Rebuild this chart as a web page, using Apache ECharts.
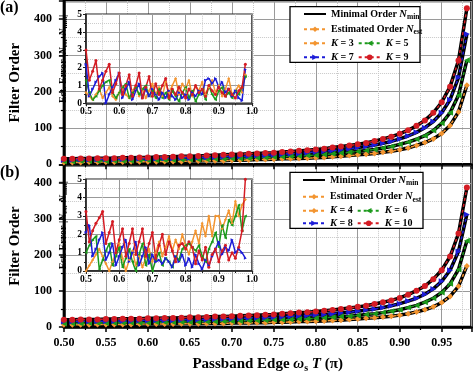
<!DOCTYPE html>
<html><head><meta charset="utf-8">
<script src="https://cdn.jsdelivr.net/npm/echarts@6/dist/echarts.min.js"></script>
<style>html,body{margin:0;padding:0;background:#fff}#wrap{position:relative;width:474px;height:374px}#c,#ov{position:absolute;left:0;top:0;width:474px;height:374px}#ov{pointer-events:none}</style>
</head><body><div id="wrap"><div id="c"></div><div id="ov"></div></div>
<script>
const xs = [0.50,0.51,0.52,0.53,0.54,0.55,0.56,0.57,0.58,0.59,0.60,0.61,0.62,0.63,0.64,0.65,0.66,0.67,0.68,0.69,0.70,0.71,0.72,0.73,0.74,0.75,0.76,0.77,0.78,0.79,0.80,0.81,0.82,0.83,0.84,0.85,0.86,0.87,0.88,0.89,0.90,0.91,0.92,0.93,0.94,0.95,0.96,0.97,0.98];

// Panel (a): minimal order
const nminA_K9 = [15,15,16,16,17,17,17,18,18,19,19,20,20,21,22,22,23,24,25,26,27,28,29,30,31,32,34,35,37,39,41,43,46,49,52,55,59,64,70,76,84,94,106,121,142,171,214,286,430];
const nminA_K7 = [12,12,13,13,13,14,14,14,15,15,16,16,17,17,18,18,19,19,20,21,22,22,23,24,25,26,28,29,30,32,34,36,38,40,43,46,49,53,58,63,70,78,88,101,118,142,178,239,359];
const nminA_K5 = [8,8,9,9,9,9,10,10,10,11,11,11,12,12,13,13,13,14,15,15,16,16,17,18,19,20,21,22,23,24,25,27,29,31,33,35,38,41,45,49,55,61,69,79,93,113,142,190,287];
const nminA_K3 = [5,5,5,6,6,6,6,6,7,7,7,7,8,8,8,9,9,10,10,10,11,11,12,13,13,14,15,15,16,17,18,19,21,22,24,26,28,30,33,36,40,45,52,60,70,85,107,144,218];
// Panel (b): minimal order
const nminB_K10 = [20,20,21,21,21,22,22,23,23,23,24,24,25,25,26,27,27,28,29,29,30,31,32,33,34,35,37,38,40,41,43,45,47,50,53,56,59,64,69,74,81,90,101,114,133,158,196,260,388];
const nminB_K8 = [15,15,16,16,16,16,17,17,17,18,18,19,19,19,20,20,21,21,22,23,23,24,25,26,26,27,28,30,31,32,34,35,37,39,41,44,47,50,54,59,65,72,80,91,106,127,158,210,313];
const nminB_K6 = [10,10,10,11,11,11,11,12,12,12,12,13,13,13,14,14,14,15,15,16,16,17,18,18,19,20,20,21,22,23,24,26,27,29,30,32,35,37,40,44,48,54,60,69,80,96,120,160,240];
const nminB_K4 = [6,6,6,6,7,7,7,7,7,8,8,8,8,8,9,9,9,10,10,10,11,11,11,12,12,13,13,14,15,15,16,17,18,19,21,22,24,26,28,30,33,37,42,48,56,68,85,113,170];

// Estimation errors |Nest - Nmin|
const errA_K9 = [3.0,1.3,1.8,2.4,0.8,1.3,1.8,2.2,0.6,1.1,1.7,0.5,1.0,1.6,0.4,1.0,1.7,0.3,0.9,1.5,0.4,1.1,0.5,1.0,1.4,0.3,0.8,0.5,0.9,0.6,0.3,0.8,0.5,1.0,0.6,0.8,0.4,1.0,0.7,0.5,0.9,0.6,0.4,0.8,0.5,0.3,0.7,0.9,2.2];
const errA_K7 = [2.2,0.4,0.8,1.2,1.5,1.7,0.0,0.5,0.9,1.3,1.7,0.3,0.8,1.2,0.2,0.7,1.1,0.3,0.8,0.4,0.8,0.5,0.2,0.6,0.3,0.7,0.4,0.2,0.6,0.3,0.5,0.2,0.6,0.4,0.7,0.5,1.3,1.4,1.1,1.4,0.9,1.2,0.6,0.8,0.4,0.7,0.3,0.15,1.9];
const errA_K5 = [1.3,0.6,0.2,0.4,0.7,1.0,1.2,1.3,0.6,0.3,0.6,0.9,1.1,0.3,0.6,0.9,0.5,0.8,1.0,0.4,0.7,0.3,0.8,0.3,0.6,0.2,0.7,0.4,0.1,0.6,0.9,0.3,0.7,0.1,0.5,0.8,0.2,1.0,0.5,0.2,0.7,0.9,0.4,0.6,0.3,0.7,0.5,0.9,1.5];
const errA_K3 = [0.6,0.4,0.2,0.5,0.8,0.3,0.6,0.9,0.4,0.2,0.6,0.9,0.5,0.3,0.7,1.0,0.4,0.8,0.3,0.7,1.1,0.5,0.9,0.4,1.2,0.6,1.0,1.4,0.5,1.1,0.8,1.3,0.4,1.0,0.7,1.2,0.5,0.9,1.3,0.6,1.0,0.4,0.8,1.4,0.5,0.7,1.0,0.6,1.6];
const errB_K10 = [3.25,1.6,2.2,2.6,2.9,3.25,1.5,2.1,2.7,1.0,1.7,2.3,0.8,1.5,2.3,0.9,1.6,2.3,0.8,1.5,2.1,0.7,1.4,2.0,0.9,1.6,1.1,0.5,1.4,1.5,1.2,1.6,1.3,0.4,1.1,0.6,1.3,0.2,0.9,1.2,0.5,1.1,1.4,0.6,1.0,0.7,1.3,2.2,5.0];
const errB_K8 = [2.1,2.5,0.8,1.2,1.7,2.1,0.6,1.0,1.5,0.3,0.8,1.3,1.7,0.5,1.0,1.6,0.3,0.8,1.3,0.4,0.9,0.5,0.6,0.4,0.7,0.5,0.2,0.8,0.5,0.9,0.3,0.7,0.2,0.9,0.4,0.1,0.6,0.3,0.8,1.2,1.6,0.9,1.3,1.1,1.7,1.0,1.2,1.0,0.7];
const errB_K6 = [1.0,1.4,1.7,1.9,0.1,0.6,1.1,1.5,0.3,0.8,1.3,0.2,0.7,1.2,0.5,0.0,0.9,1.5,0.3,0.9,0.0,0.6,1.0,0.3,0.7,0.5,0.2,0.8,0.6,1.2,1.4,1.5,1.3,1.1,1.4,0.8,0.5,1.2,1.6,2.1,1.3,2.5,1.8,2.8,2.5,3.0,3.6,2.2,3.0];
const errB_K4 = [0.0,0.3,0.6,0.9,1.2,0.8,0.4,0.0,0.5,1.0,1.5,0.7,0.0,0.6,1.1,0.3,0.8,0.2,0.7,1.2,0.5,1.0,1.6,0.8,1.3,1.9,1.1,1.7,1.2,2.0,1.4,0.9,1.6,2.2,1.5,2.6,1.9,3.0,1.9,3.0,3.0,2.3,2.8,3.3,2.6,3.8,3.0,3.6,3.9];

const FONT = "'Liberation Serif','Times New Roman',serif";
const C = {o:'#f39530', g:'#1c9a1c', b:'#1c1cd8', r:'#d41c24'};

const LT = {
  Nmin:'Minimal Order {i|N}{s|min}', Nest:'Estimated Order {i|N}{s|est}',
  K3:'{i|K} = 3', K5:'{i|K} = 5', K7:'{i|K} = 7', K9:'{i|K} = 9',
  K4:'{i|K} = 4', K6:'{i|K} = 6', K8:'{i|K} = 8', K10:'{i|K} = 10'
};
const errName = '{b|Est. Error |}{i|N}{s|est}{b|-}{i|N}{s|min}{b||}';

function pts(arr){ return xs.map((x,i)=>[x, arr[i]]); }

const panels = [
  {grid:0, inset:2, ks:[['K3',nminA_K3,errA_K3,C.o,'diamond',0],['K5',nminA_K5,errA_K5,C.g,'triangle',90],['K7',nminA_K7,errA_K7,C.b,'triangle',-90],['K9',nminA_K9,errA_K9,C.r,'circle',0]]},
  {grid:1, inset:3, ks:[['K4',nminB_K4,errB_K4,C.o,'diamond',0],['K6',nminB_K6,errB_K6,C.g,'triangle',90],['K8',nminB_K8,errB_K8,C.b,'triangle',-90],['K10',nminB_K10,errB_K10,C.r,'circle',0]]}
];

const series = [];
panels.forEach(p=>{
  p.ks.forEach(k=>series.push({type:'line', name:'Nmin', xAxisIndex:p.grid, yAxisIndex:p.grid, data:pts(k[1]), symbol:'none', lineStyle:{color:'#000', width:3.5}, itemStyle:{color:'#000'}, z:2, silent:true}));
  p.ks.forEach(k=>series.push({type:'line', name:k[0], xAxisIndex:p.grid, yAxisIndex:p.grid, data:pts(k[1]), symbol:k[4], symbolRotate:k[5], symbolSize:6, lineStyle:{color:k[3], width:1.5, type:[3,3]}, itemStyle:{color:k[3]}, z:3, silent:true}));
  p.ks.forEach(k=>series.push({type:'line', name:'e'+k[0], xAxisIndex:p.inset, yAxisIndex:p.inset, data:pts(k[2]), symbol:k[4], symbolRotate:k[5], symbolSize:3, lineStyle:{color:k[3], width:1.5}, itemStyle:{color:k[3]}, z:7, silent:true}));
});
series.push({type:'line', name:'Nest', xAxisIndex:0, yAxisIndex:0, data:[], symbol:'diamond', symbolSize:6, lineStyle:{color:C.o, width:1.5, type:[3,3]}, itemStyle:{color:C.o}});

const bold = {fontFamily:FONT, fontWeight:'bold', color:'#000'};

function mainX(i){
  return {gridIndex:i, type:'value', min:0.5, max:0.9855, interval:0.05, z:1,
    axisLine:{onZero:false, lineStyle:{color:'#000', width:2.5}},
    axisTick:{length:5, lineStyle:{color:'#000', width:1.5}},
    minorTick:{show:true, splitNumber:2, length:3, lineStyle:{color:'#000', width:1.2}},
    splitLine:{show:true, lineStyle:{color:'#9a9a9a', width:1}},
    minorSplitLine:{show:true, lineStyle:{color:'#c8c8c8', type:'dotted', width:1}},
    axisLabel:Object.assign({show:i===1, formatter:v=>v.toFixed(2), fontSize:12, margin:10, showMaxLabel:false}, bold),
    name: i===1 ? '{b|Passband Edge }{i|ω}{s|s}{i| T}{b| (π)}' : '',
    nameLocation:'middle', nameGap:28,
    nameTextStyle:Object.assign({fontSize:15, lineHeight:18, rich:{
      b:Object.assign({fontSize:15, lineHeight:18}, bold),
      i:Object.assign({fontSize:15, lineHeight:18, fontStyle:'italic'}, bold),
      s:Object.assign({fontSize:10, lineHeight:11, verticalAlign:'bottom'}, bold)}}, bold)
  };
}
function mainY(i){
  return {gridIndex:i, type:'value', min:0, max:450, interval:100, z:1,
    axisLine:{onZero:false, lineStyle:{color:'#000', width:2.5}},
    axisTick:{length:5, lineStyle:{color:'#000', width:1.5}},
    minorTick:{show:true, splitNumber:2, length:3, lineStyle:{color:'#000', width:1.2}},
    splitLine:{show:true, lineStyle:{color:'#9a9a9a', width:1}},
    minorSplitLine:{show:true, lineStyle:{color:'#c8c8c8', type:'dotted', width:1}},
    axisLabel:Object.assign({fontSize:12, margin:12, showMaxLabel:false}, bold),
    name:'Filter Order', nameLocation:'middle', nameGap:36,
    nameTextStyle:Object.assign({fontSize:15}, bold)
  };
}
function insetX(i){
  return {gridIndex:i, type:'value', min:0.5, max:1.0, interval:0.1, z:6,
    axisLine:{onZero:false, lineStyle:{color:'#222', width:1.5}},
    axisTick:{length:3, lineStyle:{color:'#222'}},
    minorTick:{show:true, splitNumber:2, length:2, lineStyle:{color:'#222'}},
    splitLine:{show:true, lineStyle:{color:'#999', width:1}},
    minorSplitLine:{show:true, lineStyle:{color:'#ccc', type:'dotted'}},
    axisLabel:Object.assign({formatter:v=>v.toFixed(1), fontSize:9.5, margin:3.5}, bold)
  };
}
function insetY(i){
  return {gridIndex:i, type:'value', min:0, max:5, interval:1, z:6,
    axisLine:{onZero:false, lineStyle:{color:'#222', width:1.5}},
    axisTick:{length:3, lineStyle:{color:'#222'}},
    minorTick:{show:true, splitNumber:2, length:2, lineStyle:{color:'#222'}},
    splitLine:{show:true, lineStyle:{color:'#999', width:1}},
    minorSplitLine:{show:true, lineStyle:{color:'#ccc', type:'dotted'}},
    axisLabel:Object.assign({fontSize:9.5, margin:4}, bold)
  };
}

function lg(names, left, top){
  return {data:names.map(n=> n==='Nmin' ? {name:n, itemStyle:{color:'rgba(0,0,0,0)', borderColor:'rgba(0,0,0,0)', borderWidth:0}} : {name:n}),
    left, top, orient:'horizontal', padding:0, itemWidth:22, itemHeight:7, itemGap:4,
    selectedMode:false, z:4, formatter:n=>LT[n],
    textStyle:Object.assign({fontSize:10, lineHeight:14, rich:{
      i:Object.assign({fontSize:10.5, lineHeight:14, fontStyle:'italic'}, bold),
      s:Object.assign({fontSize:7.5, lineHeight:8, verticalAlign:'bottom'}, bold)}}, bold)
  };
}

function errLabel(cy){
  return {type:'text', x:63, y:cy, rotation:Math.PI/2, z:8, silent:true,
    style:{text:errName, align:'center', verticalAlign:'middle', fill:'#000',
      font:"bold 10px "+FONT,
      rich:{
        b:{fontFamily:FONT, fontWeight:'bold', fontSize:10, lineHeight:12, fill:'#000'},
        i:{fontFamily:FONT, fontWeight:'bold', fontStyle:'italic', fontSize:10, lineHeight:12, fill:'#000'},
        s:{fontFamily:FONT, fontWeight:'bold', fontSize:7, lineHeight:7, verticalAlign:'bottom', fill:'#000'}
      }}};
}

const option = {
  animation:false,
  backgroundColor:'#fff',
  title:[
    {text:'(a)', left:0, top:0, padding:0, textStyle:Object.assign({fontSize:16}, bold)},
    {text:'(b)', left:0, top:165, padding:0, textStyle:Object.assign({fontSize:16}, bold)}
  ],
  grid:[
    {left:54, right:2.5, top:1, height:163.3, show:true, borderColor:'#000', borderWidth:2.5, z:0},
    {left:54, right:2.5, top:165.2, height:163.1, show:true, borderColor:'#000', borderWidth:2.5, z:0},
    {left:86, width:166, top:14.3, height:89, show:true, backgroundColor:'#fff', borderColor:'#222', borderWidth:1.5, z:5},
    {left:86, width:166, top:179.3, height:91.7, show:true, backgroundColor:'#fff', borderColor:'#222', borderWidth:1.5, z:5}
  ],
  xAxis:[mainX(0), mainX(1), insetX(2), insetX(3)],
  yAxis:[mainY(0), mainY(1), insetY(2), insetY(3)],
  legend:[
    lg(['Nmin'],303,7), lg(['Nest'],303,22.3), lg(['K3','K5'],303,36.3), lg(['K7','K9'],303,50.3),
    lg(['Nmin'],302,173), lg(['Nest'],302,189.7), lg(['K4','K6'],302,203.7), lg(['K8','K10'],302,216.3)
  ],
  graphic:[
    {type:'rect', shape:{x:290, y:6.7, width:130, height:55.6}, style:{fill:'#fff', stroke:'#000', lineWidth:1.3}, z:3},
    {type:'rect', shape:{x:290, y:172.3, width:133, height:56}, style:{fill:'#fff', stroke:'#000', lineWidth:1.3}, z:3}
  ],
  series
};
const chart = echarts.init(document.getElementById('c'));
chart.setOption(option);

// Inset y-axis titles drawn on a transparent overlay instance
const ov = echarts.init(document.getElementById('ov'));
ov.setOption({animation:false, backgroundColor:'transparent', graphic:[errLabel(58.8), errLabel(225.2)]});
</script>
</body></html>
